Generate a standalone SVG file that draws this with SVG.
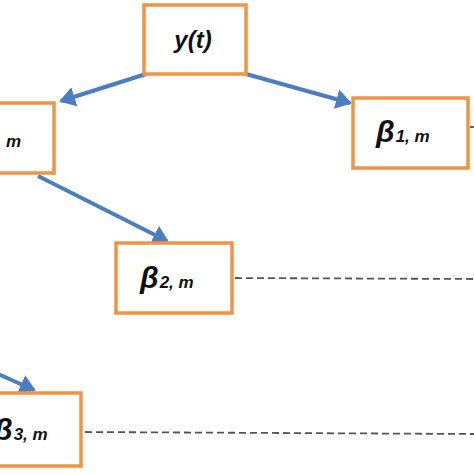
<svg xmlns="http://www.w3.org/2000/svg" width="474" height="474" viewBox="0 0 474 474">
<defs>
<style>
.box{fill:#fff;stroke:#ee9444;stroke-width:3.5}
.arr{stroke:#4a7ec0;stroke-width:4;fill:none;marker-end:url(#ah)}
.dash{stroke:#555;stroke-width:1.8;stroke-dasharray:7,4;fill:none}
.t{font-family:"Liberation Sans",Arial,sans-serif;font-weight:bold;font-style:italic;fill:#111}
.big{font-size:30px}
.sub{font-size:17px}
</style>
<marker id="ah" markerWidth="5" markerHeight="5" refX="3.5" refY="2.5" orient="auto" markerUnits="strokeWidth">
<path d="M0,0 L4,2.5 L0,5 Z" fill="#4a7ec0"/>
</marker>
</defs>
<rect width="474" height="474" fill="#fff"/>
<g id="connectors">
<line class="arr" x1="146" y1="74" x2="61" y2="101"/>
<line class="arr" x1="246" y1="74" x2="350" y2="103"/>
<line class="arr" x1="38" y1="176" x2="167" y2="241"/>
<line class="arr" x1="-2" y1="374" x2="34" y2="390"/>
<line class="dash" x1="235" y1="278" x2="474" y2="279"/>
<line class="dash" x1="85" y1="432" x2="474" y2="434"/>
<line class="dash" x1="470" y1="127" x2="474" y2="127"/>
</g>
<g id="node-y">
<rect class="box" x="144" y="5" width="102" height="69"/>
<text class="t" x="193" y="48" font-size="24" text-anchor="middle">y(t)</text>
</g>
<g id="node-b0">
<rect class="box" x="-10" y="103" width="64" height="70"/>
<text class="t sub" x="6" y="147">m</text>
</g>
<g id="node-b1">
<rect class="box" x="353" y="98" width="115" height="70"/>
<text class="t" x="376" y="142"><tspan class="big">β</tspan><tspan class="sub" dx="1">1, m</tspan></text>
</g>
<g id="node-b2">
<rect class="box" x="116" y="243" width="116" height="70"/>
<text class="t" x="140" y="288"><tspan class="big">β</tspan><tspan class="sub" dx="1">2, m</tspan></text>
</g>
<g id="node-b3">
<rect class="box" x="-10" y="393" width="91" height="73"/>
<text class="t" x="-6" y="440"><tspan class="big">β</tspan><tspan class="sub" dx="1">3, m</tspan></text>
</g>
</svg>
